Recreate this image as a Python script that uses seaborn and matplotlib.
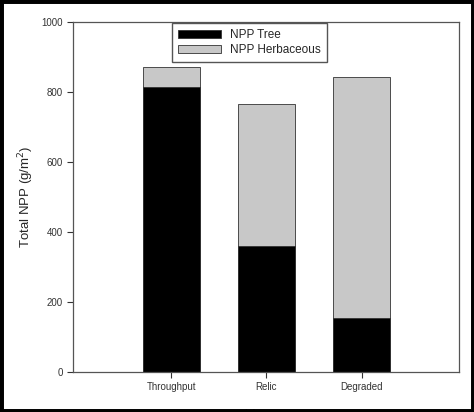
import matplotlib
matplotlib.use("Agg")
import matplotlib.pyplot as plt
import seaborn as sns
import pandas as pd

categories = ["Throughput", "Relic", "Degraded"]
npp_tree = [815, 360, 155]
npp_herb = [57, 405, 687]

sns.set_style("white")
plt.rcParams['font.family'] = ['Liberation Sans', 'DejaVu Sans']

df = pd.DataFrame({"cat": categories, "tree": npp_tree, "herb": npp_herb})
df["total"] = df["tree"] + df["herb"]

fig = plt.figure(figsize=(4.74, 4.12), dpi=100)
ax = fig.add_axes([0.154, 0.097, 0.814, 0.85])

sns.barplot(data=df, x="cat", y="total", color="#c8c8c8", edgecolor="#333333",
            linewidth=0.6, width=0.6, ax=ax, label="NPP Herbaceous")
sns.barplot(data=df, x="cat", y="tree", color="black", edgecolor="#333333",
            linewidth=0.6, width=0.6, ax=ax, label="NPP Tree")

ax.set_xlim(-1.03, 3.02)
ax.set_ylim(0, 1000)
ax.set_yticks([0, 200, 400, 600, 800, 1000])
ax.tick_params(axis="both", direction="out", length=4, width=0.8, labelsize=7, colors="#333333",
               left=True, bottom=True)
ax.set_xlabel("Habitat Type", fontsize=10, labelpad=12)
ax.set_ylabel("Total NPP (g/m$^2$)", fontsize=9.5)
for s in ax.spines.values():
    s.set_color("#555555")
    s.set_linewidth(0.9)

h, l = ax.get_legend_handles_labels()
order = [l.index("NPP Tree"), l.index("NPP Herbaceous")]
ax.legend([h[i] for i in order], [l[i] for i in order], loc="upper center",
          bbox_to_anchor=(0.458, 1.0), fontsize=8.5, fancybox=False, framealpha=1,
          edgecolor="#555555", borderpad=0.5, handlelength=3.6, labelspacing=0.3,
          borderaxespad=0.1)

fig.patches.append(plt.Rectangle((0, 0), 1, 1, transform=fig.transFigure, fill=False,
                                 edgecolor="black", linewidth=5))
fig.savefig("out.png", dpi=100)
